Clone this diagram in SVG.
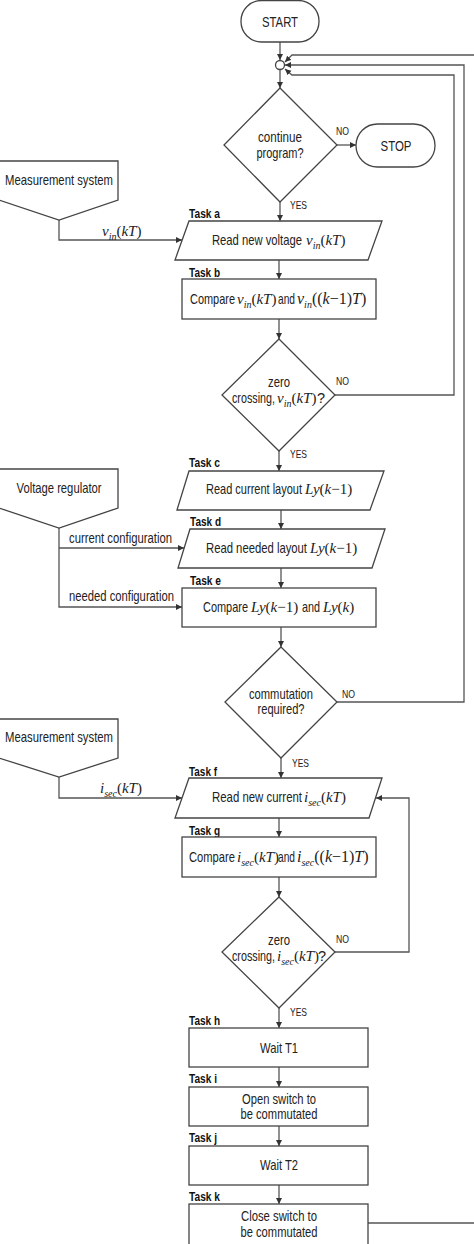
<svg xmlns="http://www.w3.org/2000/svg" width="474" height="1244" viewBox="0 0 474 1244">
<style>
.bg{fill:#fff}
.s{fill:#fff;stroke:#444;stroke-width:1.3}
.c{fill:none;stroke:#555;stroke-width:1.3}
.t{font-family:"Liberation Sans",Arial,sans-serif;font-size:14.5px;fill:#222;text-anchor:middle}
.p{font-family:"Liberation Sans",Arial,sans-serif;font-size:14.5px;fill:#222}
.l{font-family:"Liberation Sans",Arial,sans-serif;font-size:14px;fill:#222}
.k{font-family:"Liberation Sans",Arial,sans-serif;font-size:12px;font-weight:bold;fill:#111}
.y{font-family:"Liberation Sans",Arial,sans-serif;font-size:11px;fill:#222}
.mt{font-family:"Liberation Serif","Times New Roman",serif;font-size:15px;font-style:italic;fill:#222}
.mw{font-size:16px}
.ms{font-size:10px}
.mu{font-style:normal}
</style>
<defs>
<marker id="a" markerUnits="userSpaceOnUse" markerWidth="7" markerHeight="7" refX="6" refY="3" orient="auto">
<path d="M0,0 L6,3 L0,6 z" fill="#333"/>
</marker>
</defs>
<rect class="bg" x="0" y="0" width="474" height="1244"/>
<g id="connectors">
<path class="c" d="M280,42 V60" marker-end="url(#a)"/>
<path class="c" d="M280,70 V88" marker-end="url(#a)"/>
<path class="c" d="M337,145 H356" marker-end="url(#a)"/>
<path class="c" d="M280,202 V221" marker-end="url(#a)"/>
<path class="c" d="M59,220 V240 H182" marker-end="url(#a)"/>
<path class="c" d="M279,260 V279" marker-end="url(#a)"/>
<path class="c" d="M279,319 V339" marker-end="url(#a)"/>
<path class="c" d="M335,395 H454 V75 H292 L285,69" marker-end="url(#a)"/>
<path class="c" d="M279,451 V471" marker-end="url(#a)"/>
<path class="c" d="M281,510 V529" marker-end="url(#a)"/>
<path class="c" d="M59,528 V607 H182" marker-end="url(#a)"/>
<path class="c" d="M59,548 H184" marker-end="url(#a)"/>
<path class="c" d="M281,568 V588" marker-end="url(#a)"/>
<path class="c" d="M281,627 V647" marker-end="url(#a)"/>
<path class="c" d="M337,702 H464 V65 H285" marker-end="url(#a)"/>
<path class="c" d="M281,758 V778" marker-end="url(#a)"/>
<path class="c" d="M59,777 V798 H182" marker-end="url(#a)"/>
<path class="c" d="M279,818 V837" marker-end="url(#a)"/>
<path class="c" d="M279,877 V897" marker-end="url(#a)"/>
<path class="c" d="M335,952 H409 V798 H376" marker-end="url(#a)"/>
<path class="c" d="M279,1008 V1028" marker-end="url(#a)"/>
<path class="c" d="M279,1067 V1087" marker-end="url(#a)"/>
<path class="c" d="M279,1126 V1146" marker-end="url(#a)"/>
<path class="c" d="M279,1185 V1204" marker-end="url(#a)"/>
<path class="c" d="M368,1223 H477 V55 H292 L285,62" marker-end="url(#a)"/>
<text class="y" x="336" y="135" textLength="13" lengthAdjust="spacingAndGlyphs">NO</text>
<text class="y" x="290" y="209" textLength="17" lengthAdjust="spacingAndGlyphs">YES</text>
<text class="y" x="336" y="385" textLength="13" lengthAdjust="spacingAndGlyphs">NO</text>
<text class="y" x="290" y="458" textLength="17" lengthAdjust="spacingAndGlyphs">YES</text>
<text class="y" x="342" y="698" textLength="13" lengthAdjust="spacingAndGlyphs">NO</text>
<text class="y" x="292" y="767" textLength="17" lengthAdjust="spacingAndGlyphs">YES</text>
<text class="y" x="336" y="943" textLength="13" lengthAdjust="spacingAndGlyphs">NO</text>
<text class="y" x="290" y="1016" textLength="17" lengthAdjust="spacingAndGlyphs">YES</text>
<text class="mt" x="102" y="236">v<tspan class="ms" dy="3.5">in</tspan><tspan class="mu" dy="-3.5">(</tspan>kT<tspan class="mu">)</tspan></text>
<text class="l" x="69" y="543" textLength="103" lengthAdjust="spacingAndGlyphs">current configuration</text>
<text class="l" x="69" y="601" textLength="105" lengthAdjust="spacingAndGlyphs">needed configuration</text>
<text class="mt" x="100" y="793">i<tspan class="ms" dy="3.5">sec</tspan><tspan class="mu" dy="-3.5">(</tspan>kT<tspan class="mu">)</tspan></text>
</g>
<g id="start">
<rect class="s" x="241" y="0.5" width="78" height="41.5" rx="20.5"/>
<text class="t" x="280" y="27" textLength="36" lengthAdjust="spacingAndGlyphs">START</text>
</g>
<g id="junction">
<circle class="s" cx="280" cy="65" r="4.5"/>
</g>
<g id="continue">
<polygon class="s" points="280,88 337,145 280,202 224,145"/>
<text class="t" x="280" y="142" textLength="44" lengthAdjust="spacingAndGlyphs">continue</text>
<text class="t" x="280" y="158" textLength="47" lengthAdjust="spacingAndGlyphs">program?</text>
</g>
<g id="stop">
<rect class="s" x="356" y="124" width="79" height="43" rx="21.5"/>
<text class="t" x="396" y="151" textLength="31" lengthAdjust="spacingAndGlyphs">STOP</text>
</g>
<g id="meas1">
<polygon class="s" points="-1,161 118,161 118,200 59,220 -1,200"/>
<text class="t" x="59" y="185" textLength="108" lengthAdjust="spacingAndGlyphs">Measurement system</text>
</g>
<g id="task-a">
<text class="k" x="189" y="218" textLength="31" lengthAdjust="spacingAndGlyphs">Task a</text>
<polygon class="s" points="189,221 382,221 368,260 175,260"/>
<text class="p" x="212" y="245" textLength="90" lengthAdjust="spacingAndGlyphs">Read new voltage</text>
<text class="mt" x="306" y="245">v<tspan class="ms" dy="3.5">in</tspan><tspan class="mu" dy="-3.5">(</tspan>kT<tspan class="mu">)</tspan></text>
</g>
<g id="task-b">
<text class="k" x="189" y="277" textLength="31" lengthAdjust="spacingAndGlyphs">Task b</text>
<rect class="s" x="182" y="279" width="194" height="40"/>
<text class="p" x="190" y="304" textLength="45" lengthAdjust="spacingAndGlyphs">Compare</text>
<text class="mt" x="237" y="304">v<tspan class="ms" dy="3.5">in</tspan><tspan class="mu" dy="-3.5">(</tspan>kT<tspan class="mu">)</tspan></text>
<text class="p" x="278" y="304" textLength="17" lengthAdjust="spacingAndGlyphs">and</text>
<text class="mt mw" x="297" y="304">v<tspan class="ms" dy="3.5">in</tspan><tspan class="mu" dy="-3.5">((</tspan>k<tspan class="mu">−1)</tspan>T<tspan class="mu">)</tspan></text>
</g>
<g id="zero-v">
<polygon class="s" points="279,339 335,395 279,451 222,395"/>
<text class="t" x="279" y="387" textLength="22" lengthAdjust="spacingAndGlyphs">zero</text>
<text class="p" x="232" y="403" textLength="43" lengthAdjust="spacingAndGlyphs">crossing,</text>
<text class="mt" x="277" y="403">v<tspan class="ms" dy="3.5">in</tspan><tspan class="mu" dy="-3.5">(</tspan>kT<tspan class="mu">)</tspan></text>
<text class="p" x="317" y="403">?</text>
</g>
<g id="vreg">
<polygon class="s" points="-1,469 118,469 118,508 59,528 -1,508"/>
<text class="t" x="59" y="493" textLength="85" lengthAdjust="spacingAndGlyphs">Voltage regulator</text>
</g>
<g id="task-c">
<text class="k" x="189" y="467" textLength="31" lengthAdjust="spacingAndGlyphs">Task c</text>
<polygon class="s" points="189,471 384,471 370,510 177,510"/>
<text class="p" x="206" y="494" textLength="96" lengthAdjust="spacingAndGlyphs">Read current layout</text>
<text class="mt" x="305" y="494">Ly<tspan class="mu">(</tspan>k<tspan class="mu">−1)</tspan></text>
</g>
<g id="task-d">
<text class="k" x="190" y="526" textLength="31" lengthAdjust="spacingAndGlyphs">Task d</text>
<polygon class="s" points="190,529 385,529 372,568 178,568"/>
<text class="p" x="206" y="553" textLength="101" lengthAdjust="spacingAndGlyphs">Read needed layout</text>
<text class="mt" x="310" y="553">Ly<tspan class="mu">(</tspan>k<tspan class="mu">−1)</tspan></text>
</g>
<g id="task-e">
<text class="k" x="190" y="585" textLength="31" lengthAdjust="spacingAndGlyphs">Task e</text>
<rect class="s" x="182" y="588" width="194" height="39"/>
<text class="p" x="203" y="612" textLength="45" lengthAdjust="spacingAndGlyphs">Compare</text>
<text class="mt" x="251" y="612">Ly<tspan class="mu">(</tspan>k<tspan class="mu">−1)</tspan></text>
<text class="p" x="302" y="612" textLength="18" lengthAdjust="spacingAndGlyphs">and</text>
<text class="mt" x="323" y="612">Ly<tspan class="mu">(</tspan>k<tspan class="mu">)</tspan></text>
</g>
<g id="commutation">
<polygon class="s" points="281,647 337,702 281,758 225,702"/>
<text class="t" x="281" y="699" textLength="64" lengthAdjust="spacingAndGlyphs">commutation</text>
<text class="t" x="281" y="714" textLength="47" lengthAdjust="spacingAndGlyphs">required?</text>
</g>
<g id="meas2">
<polygon class="s" points="-1,719 118,719 118,758 59,777 -1,758"/>
<text class="t" x="59" y="742" textLength="108" lengthAdjust="spacingAndGlyphs">Measurement system</text>
</g>
<g id="task-f">
<text class="k" x="189" y="776" textLength="28" lengthAdjust="spacingAndGlyphs">Task f</text>
<polygon class="s" points="189,778 382,778 369,818 175,818"/>
<text class="p" x="212" y="802" textLength="90" lengthAdjust="spacingAndGlyphs">Read new current</text>
<text class="mt" x="304" y="802">i<tspan class="ms" dy="3.5">sec</tspan><tspan class="mu" dy="-3.5">(</tspan>kT<tspan class="mu">)</tspan></text>
</g>
<g id="task-g">
<text class="k" x="189" y="835" textLength="31" lengthAdjust="spacingAndGlyphs">Task g</text>
<rect class="s" x="182" y="837" width="194" height="40"/>
<text class="p" x="189" y="862" textLength="46" lengthAdjust="spacingAndGlyphs">Compare</text>
<text class="mt" x="237" y="862">i<tspan class="ms" dy="3.5">sec</tspan><tspan class="mu" dy="-3.5">(</tspan>kT<tspan class="mu">)</tspan></text>
<text class="p" x="278" y="862" textLength="17" lengthAdjust="spacingAndGlyphs">and</text>
<text class="mt mw" x="297" y="862">i<tspan class="ms" dy="3.5">sec</tspan><tspan class="mu" dy="-3.5">((</tspan>k<tspan class="mu">−1)</tspan>T<tspan class="mu">)</tspan></text>
</g>
<g id="zero-i">
<polygon class="s" points="279,897 335,952 279,1008 222,952"/>
<text class="t" x="279" y="945" textLength="22" lengthAdjust="spacingAndGlyphs">zero</text>
<text class="p" x="232" y="961" textLength="43" lengthAdjust="spacingAndGlyphs">crossing,</text>
<text class="mt" x="277" y="961">i<tspan class="ms" dy="3.5">sec</tspan><tspan class="mu" dy="-3.5">(</tspan>kT<tspan class="mu">)</tspan></text>
<text class="p" x="318" y="961">?</text>
</g>
<g id="task-h">
<text class="k" x="189" y="1025" textLength="31" lengthAdjust="spacingAndGlyphs">Task h</text>
<rect class="s" x="189" y="1028" width="179" height="39"/>
<text class="t" x="279" y="1053" textLength="38" lengthAdjust="spacingAndGlyphs">Wait T1</text>
</g>
<g id="task-i">
<text class="k" x="189" y="1083" textLength="28" lengthAdjust="spacingAndGlyphs">Task i</text>
<rect class="s" x="189" y="1087" width="179" height="39"/>
<text class="t" x="279" y="1104" textLength="74" lengthAdjust="spacingAndGlyphs">Open switch to</text>
<text class="t" x="279" y="1119" textLength="77" lengthAdjust="spacingAndGlyphs">be commutated</text>
</g>
<g id="task-j">
<text class="k" x="189" y="1142" textLength="28" lengthAdjust="spacingAndGlyphs">Task j</text>
<rect class="s" x="189" y="1146" width="179" height="39"/>
<text class="t" x="279" y="1170" textLength="38" lengthAdjust="spacingAndGlyphs">Wait T2</text>
</g>
<g id="task-k">
<text class="k" x="189" y="1201" textLength="31" lengthAdjust="spacingAndGlyphs">Task k</text>
<rect class="s" x="189" y="1204" width="179" height="50"/>
<text class="t" x="279" y="1221" textLength="76" lengthAdjust="spacingAndGlyphs">Close switch to</text>
<text class="t" x="279" y="1237" textLength="77" lengthAdjust="spacingAndGlyphs">be commutated</text>
</g>
</svg>
